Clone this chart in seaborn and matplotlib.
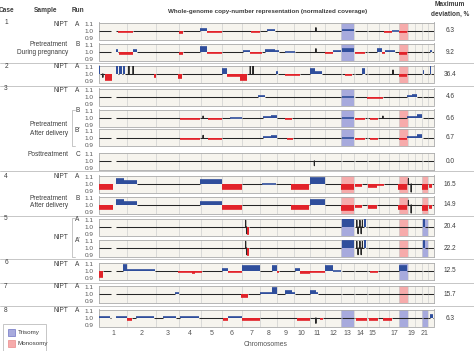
import numpy as np
import pandas as pd
import matplotlib
matplotlib.use("Agg")
import matplotlib.pyplot as plt
from matplotlib.lines import Line2D
from matplotlib.patches import Rectangle
import seaborn as sns

# ---------------- data ----------------
CHROM_LEN = [249.25, 243.20, 198.02, 191.15, 180.92, 171.12, 159.14, 146.36, 141.21,
             135.53, 135.01, 133.85, 115.17, 107.35, 102.53, 90.35, 81.20, 78.08,
             59.13, 63.03, 48.13, 51.30]
CHROM_TICKS = [1, 2, 3, 4, 5, 6, 7, 8, 9, 10, 11, 12, 13, 14, 15, 17, 19, 21]

CASE_LABELS = ["1", "", "2", "3", "", "", "", "4", "", "5", "", "6", "7", "8"]
RUN_LABELS = ["A", "B", "A", "A", "B", "B\u2032", "C", "A", "B", "A", "A\u2032", "A", "A", "A"]
MAX_DEV = [6.3, 9.2, 36.4, 4.6, 6.6, 6.7, 0.0, 16.5, 14.9, 20.4, 22.2, 12.5, 15.7, 6.3]

# common gaps (chromosome coordinate: 1.5 = middle of chr1)
GAPS = [(1.42, 1.6), (13.0, 13.08), (14.0, 14.08), (15.0, 15.08), (21.0, 21.15), (22.0, 22.15)]

# abnormal segments per run: (start, end, normalized coverage)
SEGMENTS = [
    [(1.67, 2.19, 0.985), (4.0, 4.18, 0.975), (4.97, 5.3, 1.035), (5.3, 6.0, 0.99),
     (7.5, 7.95, 0.99), (8.38, 8.85, 1.01), (13.1, 13.95, 1.008), (16.5, 17.3, 0.99),
     (17.3, 18.0, 1.005), (18.05, 18.95, 0.983)],
    [(1.61, 1.68, 1.03), (1.7, 2.19, 0.965), (2.19, 2.33, 1.03), (4.0, 4.2, 0.975),
     (4.97, 5.3, 1.07), (5.3, 6.0, 0.985), (7.05, 7.45, 1.01), (7.45, 8.1, 0.985),
     (8.26, 8.85, 1.025), (8.85, 9.1, 1.01), (9.45, 10.1, 1.005), (11.98, 12.5, 0.99),
     (12.5, 13.0, 1.01), (13.05, 13.95, 1.045), (14.05, 14.85, 0.99), (15.85, 16.3, 1.04),
     (16.3, 16.6, 0.98), (16.6, 17.6, 1.01), (18.05, 18.95, 0.975), (22.4, 22.7, 1.015)],
    [(1.0, 1.06, 1.12), (1.24, 1.48, 0.91), (1.6, 1.68, 1.12), (1.72, 1.8, 1.12),
     (1.84, 1.92, 1.12), (2.94, 3.0, 0.95), (3.97, 4.15, 0.94), (6.0, 6.25, 1.08),
     (6.25, 6.9, 0.965), (6.9, 7.28, 0.91), (8.9, 9.05, 1.03), (9.45, 10.4, 0.99),
     (11.0, 11.35, 1.07), (11.35, 11.8, 1.03), (13.3, 13.8, 0.99), (14.6, 14.85, 1.07),
     (18.05, 18.95, 0.97), (21.15, 21.45, 1.05), (22.4, 22.6, 1.12)],
    [(7.85, 8.25, 1.01), (13.1, 13.95, 1.005), (15.0, 16.4, 0.99), (18.95, 19.6, 1.01),
     (19.6, 20.3, 1.035)],
    [(4.05, 4.95, 0.99), (5.33, 6.0, 0.99), (6.4, 7.0, 1.005), (8.15, 8.6, 1.01),
     (8.6, 8.97, 1.025), (9.45, 9.9, 0.99), (13.1, 13.95, 1.005), (14.05, 14.85, 0.99),
     (15.25, 15.95, 0.99), (18.95, 20.3, 1.01), (20.3, 21.0, 1.04)],
    [(4.05, 4.95, 0.99), (5.33, 6.0, 0.99), (8.15, 8.6, 1.01), (8.6, 8.97, 1.025),
     (9.6, 9.95, 0.99), (13.1, 13.95, 1.005), (14.05, 14.85, 0.99), (15.25, 15.95, 0.99),
     (18.05, 18.95, 0.99), (18.95, 20.3, 1.01), (20.3, 21.0, 1.04)],
    [],
    [(1.0, 1.5, 0.93), (1.6, 1.88, 1.075), (1.88, 2.33, 1.045), (4.95, 6.0, 1.065),
     (6.0, 7.0, 0.93), (8.1, 8.9, 1.005), (9.85, 10.95, 0.93), (11.0, 11.97, 1.085),
     (13.0, 14.0, 0.93), (14.05, 14.6, 0.97), (15.1, 15.85, 0.95), (15.85, 16.5, 0.99),
     (17.95, 18.95, 0.93), (21.0, 22.0, 0.93), (22.3, 22.8, 0.95)],
    [(1.0, 1.5, 0.94), (1.6, 1.88, 1.07), (1.88, 2.33, 1.05), (4.95, 6.0, 1.05),
     (6.0, 7.0, 0.94), (9.85, 10.95, 0.935), (11.0, 11.97, 1.08), (13.0, 14.0, 0.93),
     (14.05, 14.6, 0.97), (15.1, 15.85, 0.95), (17.95, 18.95, 0.935), (21.0, 22.0, 0.93),
     (22.3, 22.8, 0.95)],
    [(7.27, 7.36, 0.9), (13.05, 14.0, 1.12), (14.8, 14.95, 1.12), (21.2, 21.55, 1.12)],
    [(7.27, 7.36, 0.9), (13.05, 14.0, 1.1), (14.8, 14.95, 1.12), (21.2, 21.55, 1.1)],
    [(1.0, 1.15, 0.91), (1.85, 2.0, 1.09), (2.0, 2.97, 1.01), (3.96, 4.6, 0.99),
     (4.6, 4.75, 0.975), (4.75, 5.05, 0.99), (6.0, 6.3, 1.03), (6.3, 7.0, 0.985),
     (7.0, 8.0, 1.08), (8.68, 8.97, 1.08), (9.0, 9.1, 0.98), (10.05, 10.4, 1.03),
     (10.4, 11.0, 0.975), (11.0, 11.95, 0.99), (12.0, 12.5, 1.08), (12.5, 13.0, 1.005),
     (15.3, 15.95, 0.985), (18.0, 18.95, 1.08)],
    [(3.85, 4.0, 1.01), (6.95, 7.35, 0.96), (8.0, 8.68, 1.02), (8.68, 9.0, 1.09),
     (9.45, 9.88, 1.05), (9.88, 10.1, 1.02), (11.0, 11.4, 1.045), (11.4, 11.55, 1.02)],
    [(1.0, 1.4, 1.01), (1.6, 2.0, 1.01), (2.0, 2.15, 0.97), (2.3, 2.95, 1.01),
     (3.3, 3.9, 1.01), (4.05, 4.9, 1.01), (6.05, 6.3, 0.97), (6.3, 7.0, 1.01),
     (7.0, 7.97, 0.965), (10.2, 11.0, 0.97), (11.65, 11.85, 0.98), (14.15, 15.0, 0.965),
     (15.2, 15.95, 0.975), (16.4, 17.3, 0.97), (22.4, 22.9, 1.04)],
]

# single-bin excursions of the normal trace: (position, value)
SPIKES = [
    [(11.4, 1.05)],
    [(11.4, 1.05)],
    [(1.15, 0.95), (2.05, 1.12), (2.2, 1.12), (7.45, 1.12), (7.6, 1.12), (17.4, 1.06)],
    [],
    [(5.1, 1.03), (16.4, 1.03)],
    [(5.1, 1.04)],
    [(11.3, 0.93)],
    [(19.1, 1.08), (19.5, 0.88)],
    [(19.1, 1.07), (19.5, 0.88)],
    [(7.2, 1.1), (7.25, 0.9), (14.2, 1.1), (14.3, 0.9), (14.45, 1.1), (14.55, 0.9), (14.65, 1.1)],
    [(7.2, 1.1), (7.25, 0.9), (14.2, 1.1), (14.3, 0.9), (14.45, 1.1), (14.55, 0.9), (14.65, 1.1)],
    [],
    [],
    [(11.4, 0.92)],
]

# highlighted chromosomes: T = trisomy, M = monosomy
SHADES = [
    {13: "T", 18: "M"}, {13: "T", 18: "M"}, {18: "M"}, {13: "T"},
    {13: "T", 18: "M"}, {13: "T", 18: "M"}, {},
    {13: "M", 18: "M", 21: "M"}, {13: "M", 18: "M", 21: "M"},
    {13: "T", 18: "M", 21: "T"}, {13: "T", 18: "M", 21: "T"},
    {18: "T"}, {18: "M"}, {13: "T", 18: "T", 21: "T"},
]

# ---------------- style ----------------
sns.set_theme(style="white")
plt.rcParams["font.family"] = ["Liberation Sans", "DejaVu Sans"]

BLUE = "#2f4e9c"
RED = "#e2232a"
TRI = "#a7aadd"
MONO = "#f6abab"
BG = "#f6f4ee"
GRID = "#cfcfcf"
FRAME = "#a9a9a9"
TXT = "#3c3c3c"
TICK = "#555555"
LINE = "#262626"
FS = 4.7

W, H = 474, 351
ROW_Y = [31, 52, 74, 97, 118, 138, 161, 184, 205, 227, 248, 271, 294, 318]
PX_L, PX_R = 98.5, 433.5
PANEL_H = 17
YLIM = (0.874, 1.126)

CUM = np.concatenate([[0], np.cumsum(CHROM_LEN)])
TOTAL = float(CUM[-1])


def c2x(c):
    i = int(np.floor(c + 1e-9))
    if i >= 23:
        return TOTAL
    return float(CUM[i - 1] + (c - i) * CHROM_LEN[i - 1])


def fx(px):
    return px / W


def fy(py):
    return 1 - py / H


def subtract(intervals, cut):
    out = []
    a, b = cut
    for s, e in intervals:
        if b <= s or a >= e:
            out.append((s, e))
        else:
            if a > s:
                out.append((s, a))
            if b < e:
                out.append((b, e))
    return out


fig = plt.figure(figsize=(W / 100, H / 100), dpi=100)

for r, yc in enumerate(ROW_Y):
    ax = fig.add_axes([fx(PX_L), fy(yc + PANEL_H / 2), (PX_R - PX_L) / W, PANEL_H / H])
    ax.set_facecolor(BG)
    for ch, kind in SHADES[r].items():
        ax.axvspan(c2x(ch), c2x(ch + 1), color=TRI if kind == "T" else MONO, lw=0, zorder=1)
    for b in CUM[1:-1]:
        ax.axvline(float(b), color=GRID, lw=0.5, zorder=1.5)

    # normal trace (flat stretches)
    normal = [(1.0, 23.0)]
    for g in GAPS:
        normal = subtract(normal, g)
    for s, e, v in SEGMENTS[r]:
        normal = subtract(normal, (s, e))
    normal = [(s, e) for s, e in normal if e - s >= 0.01]
    ax.hlines([1.0] * len(normal), [c2x(s) for s, e in normal], [c2x(e) for s, e in normal],
              color=LINE, lw=0.75, zorder=3)

    # single-bin excursions drawn with seaborn
    rows = []
    for uid, (c, v) in enumerate(SPIKES[r]):
        x = c2x(c)
        rows += [(uid, x - 1.2, 1.0), (uid, x, v), (uid, x + 1.2, 1.0)]
    if rows:
        df = pd.DataFrame(rows, columns=["unit", "x", "y"])
        sns.lineplot(data=df, x="x", y="y", units="unit", estimator=None, sort=False,
                     color=LINE, lw=0.75, ax=ax, legend=False, zorder=3)

    # gains / losses
    for s, e, v in SEGMENTS[r]:
        col = BLUE if v > 1 else RED
        x0, x1 = c2x(s), c2x(e)
        ax.fill_between([x0, x1], [1, 1], [v, v], color=col, lw=0, zorder=4)
        ax.hlines(v, x0, x1, color=col, lw=1.2, zorder=4)

    ax.set_xlim(0, TOTAL)
    ax.set_ylim(*YLIM)
    ax.set_xlabel("")
    ax.set_ylabel("")
    ax.set_yticks([0.9, 1.0, 1.1])
    ax.set_yticklabels(["0.9", "1.0", "1.1"])
    ax.tick_params(axis="y", length=0, pad=3.5, labelsize=4.6, labelcolor=TICK)
    for sp in ax.spines.values():
        sp.set_color(FRAME)
        sp.set_linewidth(0.6)
    if r == len(ROW_Y) - 1:
        centers = [float(CUM[c - 1] + CUM[c]) / 2 for c in CHROM_TICKS]
        ax.set_xticks(centers)
        ax.set_xticklabels([str(c) for c in CHROM_TICKS])
        ax.tick_params(axis="x", length=0, pad=2.5, labelsize=5.0, labelcolor=TICK)
        ax.set_xlabel("Chromosomes", fontsize=4.9, color=TICK, labelpad=3)
    else:
        ax.set_xticks([])

    # right-hand values
    fig.text(fx(450), fy(yc), f"{MAX_DEV[r]:.1f}", ha="center", va="center", fontsize=FS, color=TXT)
    # run + case labels
    fig.text(fx(77.5), fy(yc - 7), RUN_LABELS[r], ha="center", va="center", fontsize=FS, color=TXT)
    if CASE_LABELS[r]:
        fig.text(fx(6), fy(yc - 8), CASE_LABELS[r], ha="center", va="center", fontsize=FS, color=TXT)

# sample labels
SAMPLE_TEXT = [
    (0, -7, "NIPT"), (1, -7, "Pretreatment"), (1, 1, "During pregnancy"),
    (2, -7, "NIPT"), (3, -7, "NIPT"), (4, 7, "Pretreatment"), (4, 15, "After delivery"),
    (6, -7, "Posttreatment"), (7, -7, "NIPT"), (8, -7, "Pretreatment"), (8, 1, "After delivery"),
    (9, 10.5, "NIPT"), (11, -7, "NIPT"), (12, -7, "NIPT"), (13, -7, "NIPT"),
]
for r, dy, t in SAMPLE_TEXT:
    fig.text(fx(68), fy(ROW_Y[r] + dy), t, ha="right", va="center", fontsize=FS, color=TXT)

# headers
hdr = dict(fontsize=FS, color=TXT, fontweight="bold", va="center")
fig.text(fx(7), fy(11), "Case", ha="center", **hdr)
fig.text(fx(46), fy(11), "Sample", ha="center", **hdr)
fig.text(fx(77.5), fy(11), "Run", ha="center", **hdr)
fig.text(fx(268), fy(11), "Whole-genome copy-number representation (normalized coverage)",
         ha="center", fontsize=4.5, color=TXT, fontweight="bold", va="center")
fig.text(fx(450), fy(5), "Maximum", ha="center", **hdr)
fig.text(fx(450), fy(14), "deviation, %", ha="center", **hdr)

# separators
for y in [63, 86, 171, 216, 259, 283, 306]:
    fig.add_artist(Line2D([0, 1], [fy(y), fy(y)], color="#bdbdbd", lw=0.6))

# brackets
for y0, y1 in [(110, 146), (218, 257)]:
    fig.add_artist(Line2D([fx(75), fx(72), fx(72), fx(75)], [fy(y0), fy(y0), fy(y1), fy(y1)],
                          color="#bdbdbd", lw=0.6))

# legend
fig.add_artist(Rectangle((fx(3), fy(353)), 43 / W, 29 / H, transform=fig.transFigure,
                         facecolor="white", edgecolor="#bdbdbd", lw=0.6))
for y, col, ec, lab in [(332.5, TRI, "#7074c4", "Trisomy"), (343.5, MONO, "#ea8a8a", "Monosomy")]:
    fig.add_artist(Rectangle((fx(7.5), fy(y + 3.5)), 7 / W, 7 / H, transform=fig.transFigure,
                             facecolor=col, edgecolor=ec, lw=0.5))
    fig.text(fx(17.5), fy(y), lab, ha="left", va="center", fontsize=4.5, color=TXT)

fig.savefig("out.png", dpi=100)
